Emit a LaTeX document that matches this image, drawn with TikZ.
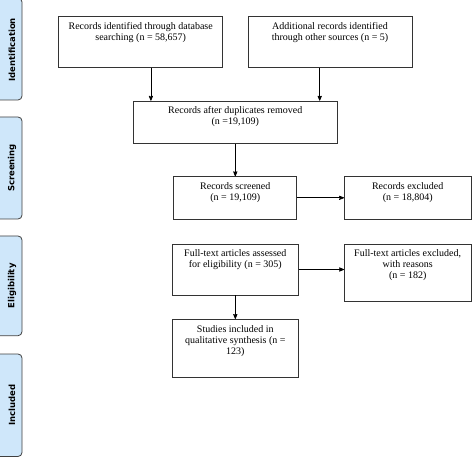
\documentclass[tikz,border=0pt]{standalone}
\usepackage{fontspec}
\setmainfont{Liberation Serif}
\newfontfamily\tabfont{DejaVu Sans}
\usetikzlibrary{arrows}

\definecolor{tabblue}{HTML}{CFE7FA}
\newcommand{\flowtext}[3]{\parbox[c][#2][t]{#1}{\vspace*{5pt}\centering\strut #3}}

\begin{document}
\begin{tikzpicture}[x=1pt,y=-1pt,>=stealth',
        stage/.style={draw=black!80,line width=0.8pt,inner sep=0pt,font=\fontsize{10}{11}\selectfont},
        flow/.style={->,line width=0.8pt},
        tab/.style={draw=black!75,fill=tabblue,line width=0.8pt,rounded corners=4pt},
        tablabel/.style={rotate=90,font=\tabfont\bfseries\fontsize{8.5}{10}\selectfont}]
    \useasboundingbox (0,0) rectangle (474,457);
    % phase tabs
    \draw[tab] (-10,-2) rectangle (22,100);
    \draw[tab] (-10,117) rectangle (22,219);
    \draw[tab] (-10,236) rectangle (22,335.7);
    \draw[tab] (-10,354) rectangle (22,456.5);
    \node[tablabel] (identification) at (12,50)    {Identification};
    \node[tablabel] (screening)      at (12,168)   {Screening};
    \node[tablabel] (eligibility)    at (12,286)   {Eligibility};
    \node[tablabel] (included)       at (12,405)   {Included};
    % boxes
    \node[stage] (ident)  at (140.7,42)    {\flowtext{164pt}{50.6pt}{Records identified through database\\searching (n = 58,657)}};
    \node[stage] (other)  at (330,42)      {\flowtext{164pt}{50.6pt}{Additional records identified\\through other sources (n = 5)}};
    \node[stage] (dedup)  at (235.3,122.2) {\flowtext{204pt}{42.3pt}{Records after duplicates removed\\(n =19,109)}};
    \node[stage] (screen) at (235.3,197.8) {\flowtext{123pt}{42.3pt}{Records screened\\(n = 19,109)}};
    \node[stage] (excl)   at (407.7,197.8) {\flowtext{126.7pt}{42.3pt}{Records excluded\\(n = 18,804)}};
    \node[stage] (full)   at (235.3,269.5) {\flowtext{126.3pt}{51pt}{Full-text articles assessed\\for eligibility (n = 305)}};
    \node[stage] (fullex) at (407.7,272.9) {\flowtext{126.7pt}{57.7pt}{Full-text articles excluded,\\with reasons\\(n = 182)}};
    \node[stage] (incl)   at (235.3,348.5) {\flowtext{126.3pt}{58.4pt}{Studies included in\\qualitative synthesis (n =\\123)}};
    \coordinate (d1) at ([xshift=18pt]dedup.north west);
    \coordinate (d2) at ([xshift=-18pt]dedup.north east);
    % arrows
    \draw[flow] (ident.south -| d1) -- (d1);
    \draw[flow] (other.south -| d2) -- (d2);
    \draw[flow] (dedup) -- (screen);
    \draw[flow] (screen) -- (excl);
    \draw[flow] (full.east) -- (full.east -| fullex.west);
    \draw[flow] (full) -- (incl);
\end{tikzpicture}
\end{document}
